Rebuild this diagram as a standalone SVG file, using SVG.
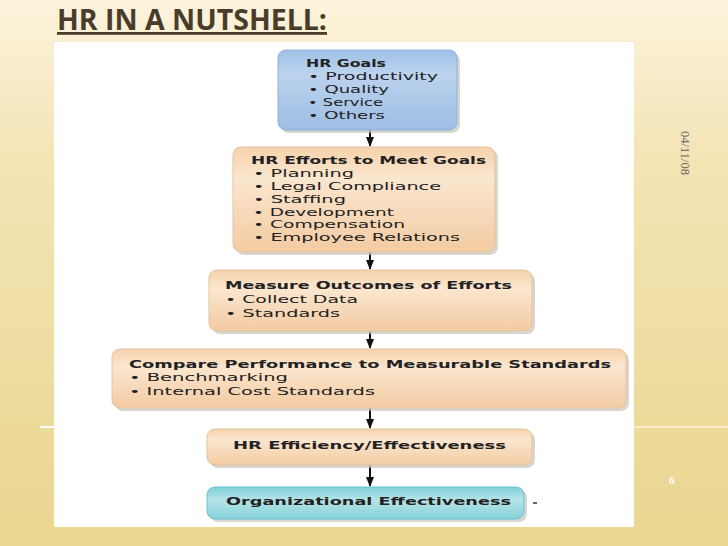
<svg xmlns="http://www.w3.org/2000/svg" width="728" height="546" viewBox="0 0 728 546">
<defs>
<linearGradient id="bg" x1="0" y1="0" x2="0" y2="1"><stop offset="0" stop-color="#fcf3dc"/><stop offset="0.3" stop-color="#f3e4b4"/><stop offset="1" stop-color="#ead690"/></linearGradient>
<linearGradient id="peach" x1="0" y1="0" x2="0" y2="1"><stop offset="0" stop-color="#f6d2ab"/><stop offset="0.3" stop-color="#fbe6cf"/><stop offset="1" stop-color="#f3cba2"/></linearGradient>
<linearGradient id="blue" x1="0" y1="0" x2="0" y2="1"><stop offset="0" stop-color="#9fc0e6"/><stop offset="0.3" stop-color="#bcd3ee"/><stop offset="1" stop-color="#9dbde3"/></linearGradient>
<linearGradient id="teal" x1="0" y1="0" x2="0" y2="1"><stop offset="0" stop-color="#7fd0d8"/><stop offset="0.4" stop-color="#b5e4e8"/><stop offset="1" stop-color="#86d2da"/></linearGradient>
<marker id="ah" markerWidth="10" markerHeight="8" refX="9" refY="4" orient="auto" markerUnits="userSpaceOnUse"><path d="M0,0 L10,4 L0,8 z" fill="#111"/></marker>
</defs>
<style>
.sh{fill:#c9c4bc;opacity:0.7}
.bx{stroke:#e0c4a2;stroke-width:1}
.h{font-family:"DejaVu Sans",sans-serif;font-weight:bold;font-size:11px;fill:#222}
.t{font-family:"DejaVu Sans",sans-serif;font-size:11px;fill:#222}
.c{stroke:#111;stroke-width:2;fill:none}
</style>
<rect width="728" height="546" fill="url(#bg)"/>
<line x1="40" y1="427" x2="54" y2="427" stroke="#fff" stroke-width="2"/>
<line x1="634" y1="427" x2="728" y2="427" stroke="#fbf3d8" stroke-width="1.5"/>
<text x="57" y="30" font-family="Open Sans, sans-serif" font-weight="bold" font-size="28" fill="#4a3c2c" textLength="270" lengthAdjust="spacingAndGlyphs" text-decoration="underline">HR IN A NUTSHELL:</text>
<text transform="translate(681,131) rotate(90)" font-family="Liberation Serif, serif" font-size="12.5" fill="#666">04/11/08</text>
<text x="669" y="484" font-family="Liberation Serif, serif" font-weight="bold" font-size="11" fill="#fff">6</text>
<rect x="54" y="42" width="580" height="485" fill="#fff"/>
<g id="connectors">
<line class="c" x1="370" y1="130" x2="370" y2="146" marker-end="url(#ah)"/>
<line class="c" x1="370" y1="252" x2="370" y2="269" marker-end="url(#ah)"/>
<line class="c" x1="370" y1="331" x2="370" y2="348" marker-end="url(#ah)"/>
<line class="c" x1="370" y1="408" x2="370" y2="428" marker-end="url(#ah)"/>
<line class="c" x1="370" y1="465" x2="370" y2="486" marker-end="url(#ah)"/>
</g>
<g id="goals">
<rect class="sh" x="281" y="53" width="179" height="80" rx="8"/>
<rect x="278" y="50" width="179" height="80" rx="8" fill="url(#blue)" stroke="#8fb0d8"/>
<text class="h" x="306" y="67" textLength="80" lengthAdjust="spacingAndGlyphs">HR Goals</text>
<text class="t" x="308" y="80" textLength="130" lengthAdjust="spacingAndGlyphs">• Productivity</text>
<text class="t" x="308" y="93" textLength="81" lengthAdjust="spacingAndGlyphs">• Quality</text>
<text class="t" x="308" y="106" textLength="75" lengthAdjust="spacingAndGlyphs">• Service</text>
<text class="t" x="308" y="119" textLength="77" lengthAdjust="spacingAndGlyphs">• Others</text>
</g>
<g id="efforts">
<rect class="sh" x="236" y="150" width="262" height="105" rx="8"/>
<rect class="bx" x="233" y="147" width="262" height="105" rx="8" fill="url(#peach)"/>
<text class="h" x="251" y="164" textLength="235" lengthAdjust="spacingAndGlyphs">HR Efforts to Meet Goals</text>
<text class="t" x="253" y="177" textLength="101" lengthAdjust="spacingAndGlyphs">• Planning</text>
<text class="t" x="253" y="190" textLength="188" lengthAdjust="spacingAndGlyphs">• Legal Compliance</text>
<text class="t" x="253" y="203" textLength="93" lengthAdjust="spacingAndGlyphs">• Staffing</text>
<text class="t" x="253" y="216" textLength="141" lengthAdjust="spacingAndGlyphs">• Development</text>
<text class="t" x="253" y="228" textLength="152" lengthAdjust="spacingAndGlyphs">• Compensation</text>
<text class="t" x="253" y="241" textLength="207" lengthAdjust="spacingAndGlyphs">• Employee Relations</text>
</g>
<g id="measure">
<rect class="sh" x="212" y="273" width="323" height="61" rx="8"/>
<rect class="bx" x="209" y="270" width="323" height="61" rx="8" fill="url(#peach)"/>
<text class="h" x="225" y="289" textLength="287" lengthAdjust="spacingAndGlyphs">Measure Outcomes of Efforts</text>
<text class="t" x="225" y="303" textLength="133" lengthAdjust="spacingAndGlyphs">• Collect Data</text>
<text class="t" x="225" y="317" textLength="115" lengthAdjust="spacingAndGlyphs">• Standards</text>
</g>
<g id="compare">
<rect class="sh" x="115" y="352" width="514" height="59" rx="8"/>
<rect class="bx" x="112" y="349" width="514" height="59" rx="8" fill="url(#peach)"/>
<text class="h" x="129" y="368" textLength="482" lengthAdjust="spacingAndGlyphs">Compare Performance to Measurable Standards</text>
<text class="t" x="129" y="381" textLength="159" lengthAdjust="spacingAndGlyphs">• Benchmarking</text>
<text class="t" x="129" y="395" textLength="246" lengthAdjust="spacingAndGlyphs">• Internal Cost Standards</text>
</g>
<g id="efficiency">
<rect class="sh" x="210" y="432" width="325" height="36" rx="8"/>
<rect class="bx" x="207" y="429" width="325" height="36" rx="8" fill="url(#peach)"/>
<text class="h" x="233" y="449" textLength="273" lengthAdjust="spacingAndGlyphs">HR Efficiency/Effectiveness</text>
</g>
<g id="org">
<rect class="sh" x="210" y="490" width="317" height="32" rx="8"/>
<rect x="207" y="487" width="317" height="32" rx="8" fill="url(#teal)" stroke="#6cc2cc"/>
<text class="h" x="226" y="505" textLength="285" lengthAdjust="spacingAndGlyphs">Organizational Effectiveness</text>
<line x1="533" y1="503" x2="537" y2="503" stroke="#333" stroke-width="1.5"/>
</g>
</svg>
